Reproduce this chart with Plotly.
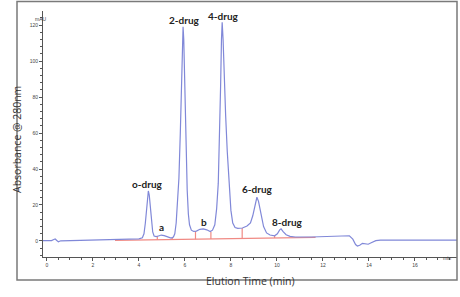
import plotly.graph_objects as go

# ---- data ----
time_min = [-0.17, 0.2, 0.3, 0.36, 0.43, 0.5, 0.6, 1.0, 2.0, 2.2, 3.0, 3.5, 4.0, 4.15,
            4.22, 4.28, 4.33, 4.37, 4.41, 4.45, 4.5, 4.55, 4.6, 4.66, 4.75, 4.85, 4.97,
            5.1, 5.25, 5.4, 5.5, 5.56, 5.62, 5.68, 5.74, 5.8, 5.85, 5.89, 5.92, 5.95,
            6.0, 6.05, 6.1, 6.15, 6.2, 6.28, 6.38, 6.5, 6.65, 6.8, 6.95, 7.1, 7.2, 7.3,
            7.38, 7.45, 7.5, 7.55, 7.59, 7.62, 7.66, 7.7, 7.77, 7.84, 7.92, 8.0, 8.08,
            8.18, 8.3, 8.5, 8.7, 8.85, 8.95, 9.05, 9.13, 9.2, 9.3, 9.42, 9.55, 9.7, 9.9,
            10.02, 10.12, 10.18, 10.27, 10.4, 10.57, 10.8, 11.5, 12.0, 12.2, 13.15, 13.3,
            13.42, 13.5, 13.6, 13.72, 13.85, 13.97, 14.1, 14.3, 14.5, 17.83]
absorbance = [0.2, 0.2, 0.8, 1.1, 0.3, -0.4, 0.1, 0.2, 0.4, 0.8, 0.9, 1.0, 1.2, 1.8,
              4, 10, 19, 25.5, 27.8, 25.5, 18, 10, 5, 2.8, 2.4, 2.8, 3.3,
              3.0, 2.2, 1.6, 2.2, 4, 10, 20, 35, 60, 90, 112, 119, 112,
              85, 50, 28, 15, 9, 6, 5.3, 5.5, 6.5, 6.7, 6.2, 5.2, 6, 9,
              18, 32, 52, 85, 112, 121.5, 112, 95, 70, 50, 30, 17, 10,
              7.5, 7, 7.2, 8.3, 10, 14, 21, 24.3, 22, 15, 8, 4.5, 3.3, 2.9,
              4, 6.2, 6.7, 5.2, 3.5, 2.6, 2.2, 2.2, 2.4, 2.9, 2.9, 1.0,
              -2.0, -2.8, -2.4, -1.3, -1.6, -1.8, -1.0, 0.2, 0.5, 0.5]

# integration baseline (start/end) and drop lines
baseline_t = [2.96, 11.68]
baseline_a = [0.3, 2.0]
drop_t = [4.8, 5.45, 6.46, 7.13, 8.49, 9.9]
drop_top = [2.6, 1.6, 5.5, 5.2, 7.2, 2.9]

peak_labels = ["o-drug", "a", "2-drug", "b", "4-drug", "6-drug", "8-drug"]
label_t = [4.39, 4.99, 6.0, 6.83, 7.68, 9.14, 10.45]
label_a = [31.7, 7.6, 122.8, 10.6, 125.2, 28.9, 10.7]

x_ticks = [0, 2, 4, 6, 8, 10, 12, 14, 16]
y_ticks = [0, 20, 40, 60, 80, 100, 120]

# ---- figure ----
W, H = 460, 297
ML, MR, MT, MB = 43, 3, 11, 40
PW, PH = W - ML - MR, H - MT - MB


def px(xp):
    return (xp - ML) / PW


def py(yp):
    return (H - MB - yp) / PH


def base_at(t):
    t0, t1 = baseline_t
    a0, a1 = baseline_a
    return a0 + (a1 - a0) * (t - t0) / (t1 - t0)


red_x, red_y = list(baseline_t), list(baseline_a)
for t, top in zip(drop_t, drop_top):
    red_x += [None, t, t]
    red_y += [None, base_at(t), top]

fig = go.Figure()
fig.add_trace(go.Scatter(x=red_x, y=red_y, mode="lines",
                         line=dict(color="#f08a84", width=1.2),
                         hoverinfo="skip", showlegend=False))
fig.add_trace(go.Scatter(x=time_min, y=absorbance, mode="lines",
                         line=dict(color="#8088d8", width=1.2),
                         showlegend=False))

annotations = []
for lab, t, a in zip(peak_labels, label_t, label_a):
    annotations.append(dict(x=t, y=a, xref="x", yref="y", text=f"<b>{lab}</b>",
                            showarrow=False, font=dict(family="Lato", size=10, color="#222")))

annotations += [
    dict(x=px(250), y=py(290), xref="paper", yref="paper", text="Elution Time (min)",
         showarrow=False, font=dict(family="Open Sans", size=10.5, color="#333")),
    dict(x=px(8), y=py(140), xref="paper", yref="paper", text="Absorbance @ 280nm",
         textangle=-90, showarrow=False, font=dict(family="Open Sans", size=10.5, color="#333")),
    dict(x=px(33), y=py(14), xref="paper", yref="paper", text="mAU",
         showarrow=False, font=dict(family="Liberation Sans", size=5, color="#444")),
    dict(x=px(453), y=py(263), xref="paper", yref="paper", text="min",
         showarrow=False, font=dict(family="Liberation Sans", size=5, color="#444")),
]

fig.update_layout(
    width=W, height=H,
    margin=dict(l=ML, r=MR, t=MT, b=MB),
    paper_bgcolor="white", plot_bgcolor="white",
    annotations=annotations,
    shapes=[dict(type="rect", xref="paper", yref="paper",
                 x0=px(17), x1=px(457), y0=py(280), y1=py(1.5),
                 line=dict(color="#7a7a7a", width=1.5))],
)
fig.update_xaxes(range=[-0.17, 17.83], showgrid=False, zeroline=False,
                 showline=True, linecolor="#555", linewidth=1,
                 tickvals=x_ticks, ticks="outside", ticklen=3, tickcolor="#555",
                 tickfont=dict(family="Liberation Sans", size=5, color="#444"),
                 minor=dict(dtick=0.5, tick0=0, ticks="outside", ticklen=2, tickcolor="#555"))
fig.update_yaxes(range=[-8.9, 127.8], showgrid=False, zeroline=False,
                 showline=True, linecolor="#555", linewidth=1,
                 tickvals=y_ticks, ticks="outside", ticklen=3, tickcolor="#555",
                 tickfont=dict(family="Liberation Sans", size=5, color="#444"),
                 minor=dict(dtick=4, tick0=0, ticks="outside", ticklen=2, tickcolor="#555"))

fig.write_html("out.html", config={"displayModeBar": False},
               post_script="document.body.style.margin='0';document.body.style.padding='0';")
